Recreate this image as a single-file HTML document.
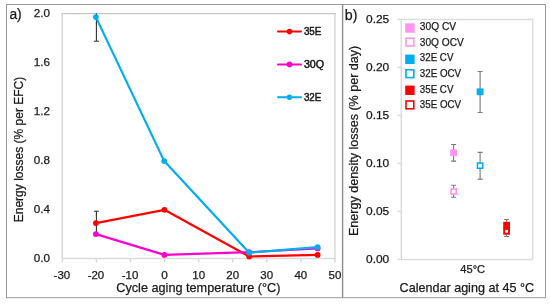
<!DOCTYPE html>
<html lang="en">
<head>
<meta charset="utf-8">
<title>Energy losses vs. aging temperature</title>
<style>
html,body{margin:0;padding:0;background:#ffffff;}
body{width:550px;height:304px;overflow:hidden;font-family:"Liberation Sans",sans-serif;}
svg{display:block;filter:blur(0.3px);}
text{white-space:pre;}
</style>
</head>
<body>
<svg width="550" height="304" viewBox="0 0 550 304" font-family='"Liberation Sans", sans-serif'>
<rect x="0" y="0" width="550" height="304" fill="#ffffff"/>
<rect x="6.5" y="4.5" width="539" height="293.2" fill="#ffffff" stroke="#999999" stroke-width="1"/>
<line x1="342.6" y1="4.5" x2="342.6" y2="297.5" stroke="#8c8c8c" stroke-width="1.4"/>
<path d="M62.3 13.1V259.3M334.9 13.1V259.3M61.5 258.5H335.7" fill="none" stroke="#dadada" stroke-width="1.6"/>
<path d="M61.5 13.6H335.7" fill="none" stroke="#c6c6c6" stroke-width="1.1"/>
<line x1="62.4" y1="258.5" x2="62.4" y2="262.5" stroke="#dadada" stroke-width="1.5"/>
<line x1="96.46" y1="258.5" x2="96.46" y2="262.5" stroke="#dadada" stroke-width="1.5"/>
<line x1="130.53" y1="258.5" x2="130.53" y2="262.5" stroke="#dadada" stroke-width="1.5"/>
<line x1="164.59" y1="258.5" x2="164.59" y2="262.5" stroke="#dadada" stroke-width="1.5"/>
<line x1="198.65" y1="258.5" x2="198.65" y2="262.5" stroke="#dadada" stroke-width="1.5"/>
<line x1="232.71" y1="258.5" x2="232.71" y2="262.5" stroke="#dadada" stroke-width="1.5"/>
<line x1="266.77" y1="258.5" x2="266.77" y2="262.5" stroke="#dadada" stroke-width="1.5"/>
<line x1="300.84" y1="258.5" x2="300.84" y2="262.5" stroke="#dadada" stroke-width="1.5"/>
<line x1="334.9" y1="258.5" x2="334.9" y2="262.5" stroke="#dadada" stroke-width="1.5"/>
<path d="M96.4 13.2V41.2M93.9 41.2H98.9" stroke="#303030" stroke-width="1.1" fill="none"/>
<path d="M96.4 211.2V235.4M93.9 211.2H98.9M93.9 235.4H98.9" stroke="#303030" stroke-width="1.1" fill="none"/>
<path d="M95.9 223.1L164.4 209.8L249.2 256.5L317.6 254.9" stroke="#ff0000" stroke-width="2.2" fill="none" stroke-linejoin="round" stroke-linecap="round"/>
<circle cx="95.9" cy="223.1" r="2.9" fill="#ff0000"/>
<circle cx="164.4" cy="209.8" r="2.9" fill="#ff0000"/>
<circle cx="249.2" cy="256.5" r="2.9" fill="#ff0000"/>
<circle cx="317.6" cy="254.9" r="2.9" fill="#ff0000"/>
<path d="M95.9 234.1L164.4 254.9L249.2 252.2L317.6 248.4" stroke="#ff00cc" stroke-width="2.2" fill="none" stroke-linejoin="round" stroke-linecap="round"/>
<circle cx="95.9" cy="234.1" r="2.9" fill="#ff00cc"/>
<circle cx="164.4" cy="254.9" r="2.9" fill="#ff00cc"/>
<circle cx="249.2" cy="252.2" r="2.9" fill="#ff00cc"/>
<circle cx="317.6" cy="248.4" r="2.9" fill="#ff00cc"/>
<path d="M95.9 17.1L164.2 161.1L249.2 252.7L317.6 247.1" stroke="#00adef" stroke-width="2.2" fill="none" stroke-linejoin="round" stroke-linecap="round"/>
<circle cx="95.9" cy="17.1" r="2.9" fill="#00adef"/>
<circle cx="164.2" cy="161.1" r="2.9" fill="#00adef"/>
<circle cx="249.2" cy="252.7" r="2.9" fill="#00adef"/>
<circle cx="317.6" cy="247.1" r="2.9" fill="#00adef"/>
<text x="50.0" y="17.3" font-size="10.8" text-anchor="end" fill="#1a1a1a" stroke="#1a1a1a" stroke-width="0.25" textLength="16.2" lengthAdjust="spacingAndGlyphs">2.0</text>
<text x="50.0" y="66.3" font-size="10.8" text-anchor="end" fill="#1a1a1a" stroke="#1a1a1a" stroke-width="0.25" textLength="16.2" lengthAdjust="spacingAndGlyphs">1.6</text>
<text x="50.0" y="115.3" font-size="10.8" text-anchor="end" fill="#1a1a1a" stroke="#1a1a1a" stroke-width="0.25" textLength="16.2" lengthAdjust="spacingAndGlyphs">1.2</text>
<text x="50.0" y="164.3" font-size="10.8" text-anchor="end" fill="#1a1a1a" stroke="#1a1a1a" stroke-width="0.25" textLength="16.2" lengthAdjust="spacingAndGlyphs">0.8</text>
<text x="50.0" y="213.3" font-size="10.8" text-anchor="end" fill="#1a1a1a" stroke="#1a1a1a" stroke-width="0.25" textLength="16.2" lengthAdjust="spacingAndGlyphs">0.4</text>
<text x="50.0" y="262.3" font-size="10.8" text-anchor="end" fill="#1a1a1a" stroke="#1a1a1a" stroke-width="0.25" textLength="16.2" lengthAdjust="spacingAndGlyphs">0.0</text>
<text x="61.9" y="279.1" font-size="10.8" text-anchor="middle" fill="#1a1a1a" stroke="#1a1a1a" stroke-width="0.25" textLength="16.6" lengthAdjust="spacingAndGlyphs">-30</text>
<text x="95.96" y="279.1" font-size="10.8" text-anchor="middle" fill="#1a1a1a" stroke="#1a1a1a" stroke-width="0.25" textLength="16.6" lengthAdjust="spacingAndGlyphs">-20</text>
<text x="130.03" y="279.1" font-size="10.8" text-anchor="middle" fill="#1a1a1a" stroke="#1a1a1a" stroke-width="0.25" textLength="16.6" lengthAdjust="spacingAndGlyphs">-10</text>
<text x="164.59" y="279.1" font-size="10.8" text-anchor="middle" fill="#1a1a1a" stroke="#1a1a1a" stroke-width="0.25" textLength="6.6" lengthAdjust="spacingAndGlyphs">0</text>
<text x="198.65" y="279.1" font-size="10.8" text-anchor="middle" fill="#1a1a1a" stroke="#1a1a1a" stroke-width="0.25" textLength="12.8" lengthAdjust="spacingAndGlyphs">10</text>
<text x="232.71" y="279.1" font-size="10.8" text-anchor="middle" fill="#1a1a1a" stroke="#1a1a1a" stroke-width="0.25" textLength="12.8" lengthAdjust="spacingAndGlyphs">20</text>
<text x="266.77" y="279.1" font-size="10.8" text-anchor="middle" fill="#1a1a1a" stroke="#1a1a1a" stroke-width="0.25" textLength="12.8" lengthAdjust="spacingAndGlyphs">30</text>
<text x="300.84" y="279.1" font-size="10.8" text-anchor="middle" fill="#1a1a1a" stroke="#1a1a1a" stroke-width="0.25" textLength="12.8" lengthAdjust="spacingAndGlyphs">40</text>
<text x="334.9" y="279.1" font-size="10.8" text-anchor="middle" fill="#1a1a1a" stroke="#1a1a1a" stroke-width="0.25" textLength="12.8" lengthAdjust="spacingAndGlyphs">50</text>
<text x="116.3" y="292.4" font-size="12.6" text-anchor="start" fill="#1a1a1a" stroke="#1a1a1a" stroke-width="0.25" textLength="164.2" lengthAdjust="spacingAndGlyphs">Cycle aging temperature (°C)</text>
<text transform="translate(23.4 149.5) rotate(-90)" font-size="12.6" text-anchor="middle" fill="#1a1a1a" stroke="#1a1a1a" stroke-width="0.25" textLength="145.5" lengthAdjust="spacingAndGlyphs">Energy losses (% per EFC)</text>
<text x="9.4" y="18.8" font-size="13.8" text-anchor="start" fill="#1a1a1a" stroke="#1a1a1a" stroke-width="0.25">a)</text>
<line x1="278" y1="31.6" x2="301" y2="31.6" stroke="#ff0000" stroke-width="2" stroke-linecap="round"/>
<circle cx="289.5" cy="31.6" r="2.8" fill="#ff0000"/>
<text x="303.9" y="35.0" font-size="10.4" text-anchor="start" fill="#1a1a1a" stroke="#1a1a1a" stroke-width="0.5" textLength="17.4" lengthAdjust="spacingAndGlyphs">35E</text>
<line x1="278" y1="64.4" x2="301" y2="64.4" stroke="#ff00cc" stroke-width="2" stroke-linecap="round"/>
<circle cx="289.5" cy="64.4" r="2.8" fill="#ff00cc"/>
<text x="303.9" y="67.8" font-size="10.4" text-anchor="start" fill="#1a1a1a" stroke="#1a1a1a" stroke-width="0.5" textLength="20.2" lengthAdjust="spacingAndGlyphs">30Q</text>
<line x1="278" y1="97.19999999999999" x2="301" y2="97.19999999999999" stroke="#00adef" stroke-width="2" stroke-linecap="round"/>
<circle cx="289.5" cy="97.19999999999999" r="2.8" fill="#00adef"/>
<text x="303.9" y="100.6" font-size="10.4" text-anchor="start" fill="#1a1a1a" stroke="#1a1a1a" stroke-width="0.5" textLength="17.4" lengthAdjust="spacingAndGlyphs">32E</text>
<rect x="401.3" y="19.5" width="131.40000000000003" height="240.0" fill="none" stroke="#dcdcdc" stroke-width="1.5"/>
<line x1="397.3" y1="19.5" x2="401.3" y2="19.5" stroke="#dcdcdc" stroke-width="1.4"/>
<text x="389.2" y="23.4" font-size="10.8" text-anchor="end" fill="#1a1a1a" stroke="#1a1a1a" stroke-width="0.25" textLength="23.2" lengthAdjust="spacingAndGlyphs">0.25</text>
<line x1="397.3" y1="67.5" x2="401.3" y2="67.5" stroke="#dcdcdc" stroke-width="1.4"/>
<text x="389.2" y="71.4" font-size="10.8" text-anchor="end" fill="#1a1a1a" stroke="#1a1a1a" stroke-width="0.25" textLength="23.2" lengthAdjust="spacingAndGlyphs">0.20</text>
<line x1="397.3" y1="115.5" x2="401.3" y2="115.5" stroke="#dcdcdc" stroke-width="1.4"/>
<text x="389.2" y="119.4" font-size="10.8" text-anchor="end" fill="#1a1a1a" stroke="#1a1a1a" stroke-width="0.25" textLength="23.2" lengthAdjust="spacingAndGlyphs">0.15</text>
<line x1="397.3" y1="163.5" x2="401.3" y2="163.5" stroke="#dcdcdc" stroke-width="1.4"/>
<text x="389.2" y="167.4" font-size="10.8" text-anchor="end" fill="#1a1a1a" stroke="#1a1a1a" stroke-width="0.25" textLength="23.2" lengthAdjust="spacingAndGlyphs">0.10</text>
<line x1="397.3" y1="211.5" x2="401.3" y2="211.5" stroke="#dcdcdc" stroke-width="1.4"/>
<text x="389.2" y="215.4" font-size="10.8" text-anchor="end" fill="#1a1a1a" stroke="#1a1a1a" stroke-width="0.25" textLength="23.2" lengthAdjust="spacingAndGlyphs">0.05</text>
<line x1="397.3" y1="259.5" x2="401.3" y2="259.5" stroke="#dcdcdc" stroke-width="1.4"/>
<text x="389.2" y="263.4" font-size="10.8" text-anchor="end" fill="#1a1a1a" stroke="#1a1a1a" stroke-width="0.25" textLength="23.2" lengthAdjust="spacingAndGlyphs">0.00</text>
<text x="344.8" y="20.3" font-size="14.2" text-anchor="start" fill="#1a1a1a" stroke="#1a1a1a" stroke-width="0.25">b)</text>
<text transform="translate(357.8 140.9) rotate(-90)" font-size="12.6" text-anchor="middle" fill="#1a1a1a" stroke="#1a1a1a" stroke-width="0.25" textLength="190.3" lengthAdjust="spacingAndGlyphs">Energy density losses (% per day)</text>
<text x="472.7" y="272.9" font-size="10.8" text-anchor="middle" fill="#1a1a1a" stroke="#1a1a1a" stroke-width="0.25" textLength="24.8" lengthAdjust="spacingAndGlyphs">45°C</text>
<text x="399.6" y="292.0" font-size="12.6" text-anchor="start" fill="#1a1a1a" stroke="#1a1a1a" stroke-width="0.25" textLength="134.4" lengthAdjust="spacingAndGlyphs">Calendar aging at 45 °C</text>
<rect x="405.2" y="23.3" width="9.4" height="9.4" fill="#ff94f0"/>
<text x="419.8" y="30.1" font-size="10.8" text-anchor="start" fill="#1a1a1a" stroke="#1a1a1a" stroke-width="0.25" textLength="36.3" lengthAdjust="spacingAndGlyphs">30Q CV</text>
<rect x="406.0" y="38.199999999999996" width="7.800000000000001" height="7.800000000000001" fill="#ffffff" stroke="#ff94f0" stroke-width="1.6"/>
<text x="419.8" y="45.8" font-size="10.8" text-anchor="start" fill="#1a1a1a" stroke="#1a1a1a" stroke-width="0.25" textLength="44.0" lengthAdjust="spacingAndGlyphs">30Q OCV</text>
<rect x="405.2" y="54.599999999999994" width="9.4" height="9.4" fill="#00adef"/>
<text x="419.8" y="60.9" font-size="10.8" text-anchor="start" fill="#1a1a1a" stroke="#1a1a1a" stroke-width="0.25" textLength="33.6" lengthAdjust="spacingAndGlyphs">32E CV</text>
<rect x="406.0" y="69.8" width="7.800000000000001" height="7.800000000000001" fill="#ffffff" stroke="#00adef" stroke-width="1.6"/>
<text x="419.8" y="76.6" font-size="10.8" text-anchor="start" fill="#1a1a1a" stroke="#1a1a1a" stroke-width="0.25" textLength="41.3" lengthAdjust="spacingAndGlyphs">32E OCV</text>
<rect x="405.2" y="85.6" width="9.4" height="9.4" fill="#ff0000"/>
<text x="419.8" y="92.6" font-size="10.8" text-anchor="start" fill="#1a1a1a" stroke="#1a1a1a" stroke-width="0.25" textLength="33.6" lengthAdjust="spacingAndGlyphs">35E CV</text>
<rect x="406.0" y="101.0" width="7.800000000000001" height="7.800000000000001" fill="#ffffff" stroke="#ff0000" stroke-width="1.6"/>
<text x="419.8" y="107.9" font-size="10.8" text-anchor="start" fill="#1a1a1a" stroke="#1a1a1a" stroke-width="0.25" textLength="41.3" lengthAdjust="spacingAndGlyphs">35E OCV</text>
<path d="M480.1 71.5V112.5M477.6 71.5H482.6M477.6 112.5H482.6" stroke="#7a7a7a" stroke-width="1.1" fill="none"/>
<rect x="476.70000000000005" y="88.39999999999999" width="6.8" height="6.8" fill="#00adef"/>
<path d="M453.6 144.5V161.1M451.1 144.5H456.1M451.1 161.1H456.1" stroke="#7a7a7a" stroke-width="1.1" fill="none"/>
<rect x="450.20000000000005" y="149.4" width="6.8" height="6.8" fill="#ff94f0"/>
<path d="M480.1 152.4V179.1M477.6 152.4H482.6M477.6 179.1H482.6" stroke="#7a7a7a" stroke-width="1.1" fill="none"/>
<rect x="477.50000000000006" y="163.1" width="5.199999999999999" height="5.199999999999999" fill="#ffffff" stroke="#00adef" stroke-width="1.6"/>
<path d="M453.6 185.3V197.3M451.1 185.3H456.1M451.1 197.3H456.1" stroke="#7a7a7a" stroke-width="1.1" fill="none"/>
<rect x="451.00000000000006" y="188.9" width="5.199999999999999" height="5.199999999999999" fill="#ffffff" stroke="#ff94f0" stroke-width="1.6"/>
<path d="M506.6 219.5V236.5M504.1 219.5H509.1M504.1 236.5H509.1" stroke="#7a7a7a" stroke-width="1.1" fill="none"/>
<rect x="503.20000000000005" y="221.79999999999998" width="6.8" height="6.8" fill="#ff0000"/>
<rect x="504.20000000000005" y="228.9" width="4.8" height="4.8" fill="#ffffff" stroke="#ff0000" stroke-width="2.0"/>
</svg>
</body>
</html>
